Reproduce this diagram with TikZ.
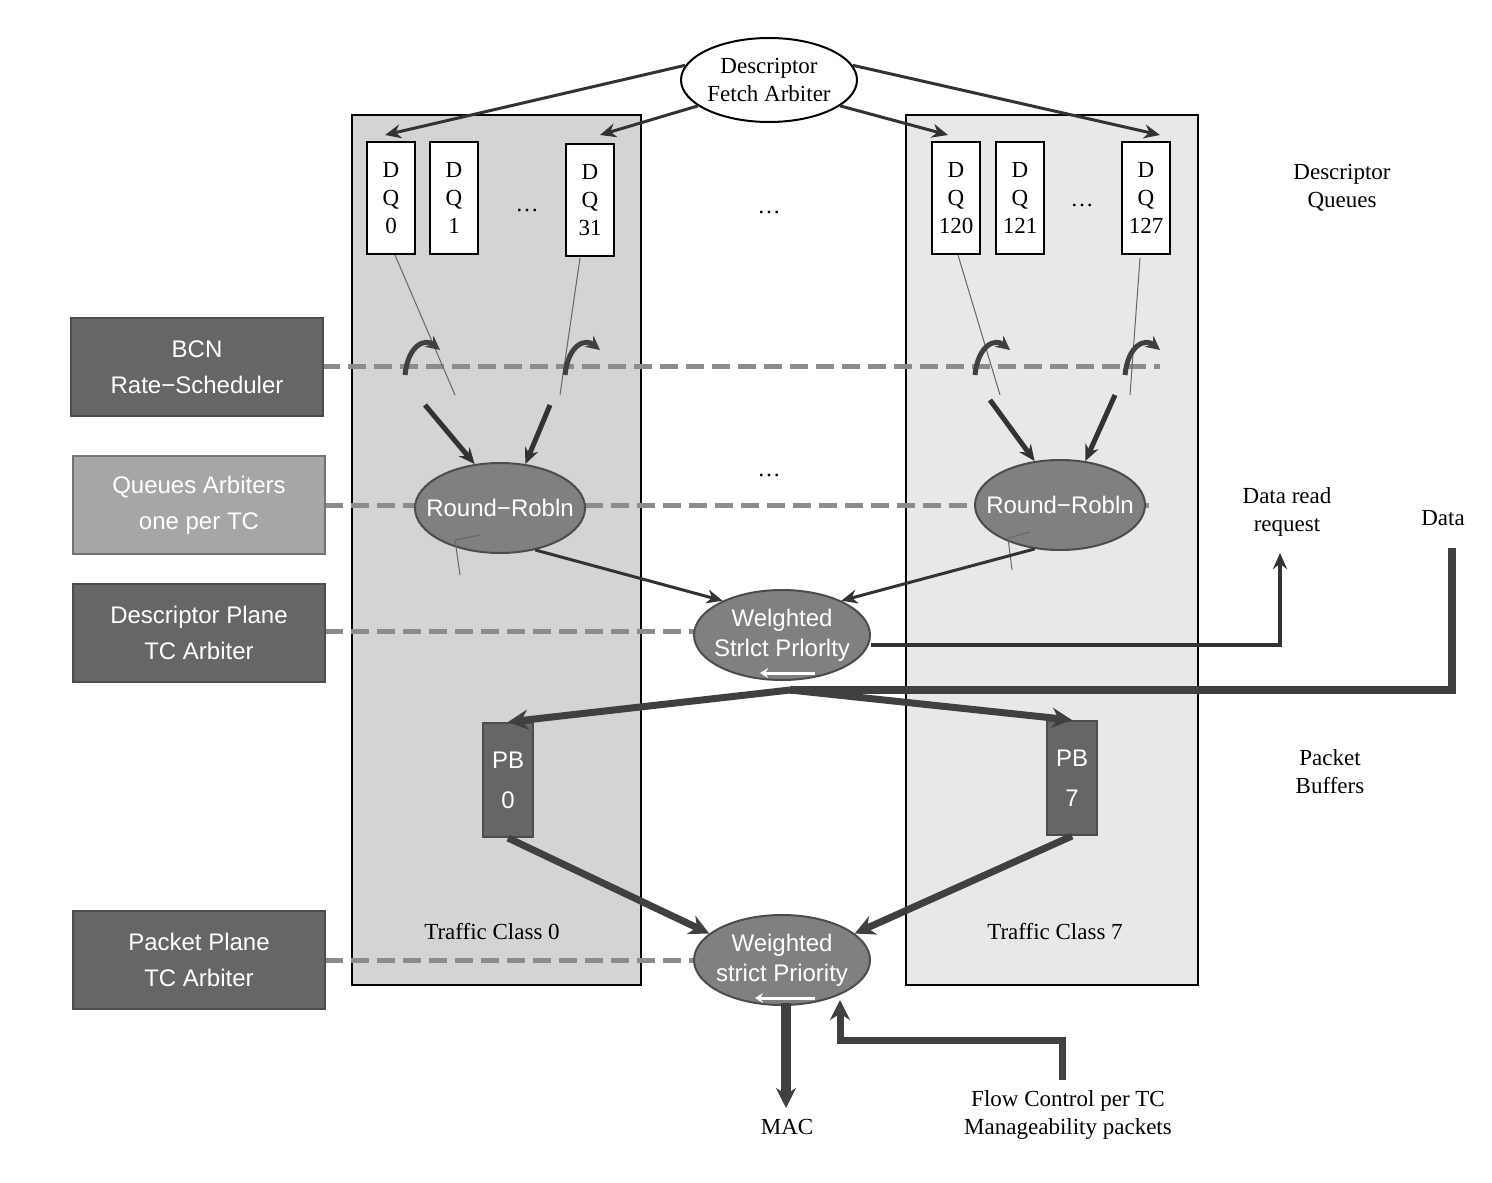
\documentclass[tikz,border=0pt]{standalone}
\usepackage{fontspec}
\setmainfont{Liberation Serif}
\newfontfamily\sansf{Liberation Sans}
\usetikzlibrary{arrows.meta,shapes.geometric}
\begin{document}
\begin{tikzpicture}[x=0.5pt,y=-0.5pt,
  txt/.style={font=\fontsize{11.5}{14}\selectfont,align=center},
  dq/.style={draw,line width=1pt,fill=white,minimum width=24pt,minimum height=56pt,inner sep=0pt,font=\fontsize{11.5}{14}\selectfont,align=center},
  lbox/.style={draw=black!70,line width=1pt,fill=black!60,text=white,minimum width=126pt,minimum height=49pt,font=\sansf\fontsize{12}{18}\selectfont,align=center},
  ell/.style={ellipse,draw=black!70,line width=1pt,fill=black!50,text=white,font=\sansf\fontsize{12}{15}\selectfont,align=center,inner xsep=-9pt,inner ysep=0pt},
  dashln/.style={draw=black!45,line width=2.5pt,dash pattern=on 9pt off 4pt},
  ar/.style={-{Stealth[length=8pt,width=7pt]},line width=1.5pt,draw=black!80},
  tk/.style={-{Stealth[length=10pt,width=10pt]},line width=3.5pt,draw=black!75},
  thin/.style={draw=black!60,line width=0.5pt}]
\useasboundingbox (0,0) rectangle (1492,1182);
\fill[white] (0,0) rectangle (1492,1182);
% panels
\draw[line width=1pt,fill=black!17] (352,115) rectangle (641,985);
\draw[line width=1pt,fill=black!9] (906,115) rectangle (1198,985);
% dashed lines
\draw[dashln] (322,366) -- (1160,366);
\draw[dashln] (325,505) -- (1150,505);
\draw[dashln] (325,631) -- (700,631);
\draw[dashln] (325,960) -- (695,960);
% fetch arbiter
\node[ellipse,draw,line width=1pt,fill=white,minimum width=88pt,minimum height=42pt,inner sep=0pt,txt] (dfa) at (769,80) {Descriptor\\Fetch Arbiter};
% DQs
\node[dq] (dq0) at (391,198) {D\\Q\\0};
\node[dq] (dq1) at (454,198) {D\\Q\\1};
\node[dq] (dq31) at (590,200) {D\\Q\\31};
\node[dq] (dq120) at (956,198) {D\\Q\\120};
\node[dq] (dq121) at (1020,198) {D\\Q\\121};
\node[dq] (dq127) at (1146,198) {D\\Q\\127};
\coordinate (t0) at (385,135); \coordinate (t31) at (600,135);
\coordinate (t120) at (948,135); \coordinate (t127) at (1160,135);
\draw[ar] (dfa.170) -- (t0);
\draw[ar] (dfa.200) -- (t31);
\draw[ar] (dfa.-20) -- (t120);
\draw[ar] (dfa.10) -- (t127);
\node[txt] (d1) at (527,210) {\dots};
\node[txt] (d2) at (769,212) {\dots};
\node[txt] (d3) at (1082,205) {\dots};
\node[txt] (d4) at (769,475) {\dots};
% thin lines and curved arrows
\foreach \a/\b/\c/\d in {395/255/455/395, 580/258/560/395, 958/255/1000/395, 1140/258/1130/395}{
  \draw[thin] (\a,\b) -- (\c,\d);}
\foreach \x in {405,565,975,1125}{
  \draw[-{Stealth[length=7pt,width=7pt]},line width=2.5pt,draw=black!75] (\x,375) .. controls (\x+3,345) and (\x+20,338) .. (\x+35,350);}
% round robins
\node[ell,minimum width=85pt,minimum height=45pt] (rr0) at (500,508) {Round−Robln};
\node[ell,minimum width=85pt,minimum height=45pt] (rr7) at (1060,505) {Round−Robln};
\draw[thin] (460,575) -- (455,540) -- (480,535);
\draw[thin] (1012,570) -- (1008,538) -- (1030,532);
\coordinate (a1) at (425,405); \coordinate (a2) at (550,405);
\coordinate (a3) at (990,400); \coordinate (a4) at (1115,395);
\draw[ar,line width=2.5pt] (a1) -- (rr0.120);
\draw[ar,line width=2.5pt] (a2) -- (rr0.60);
\draw[ar,line width=2.5pt] (a3) -- (rr7.120);
\draw[ar,line width=2.5pt] (a4) -- (rr7.60);
% WSP
\node[ell,minimum width=88pt,minimum height=45pt] (wsp) at (782,635) {Welghted\\Strlct Prlorlty};
\node[ell,minimum width=88pt,minimum height=45pt] (wsp2) at (782,960) {Weighted\\strict Priority};
\draw[-{Stealth[length=4pt,width=5pt]},white,line width=1.5pt] (815,673) -- (760,673);
\draw[-{Stealth[length=4pt,width=5pt]},white,line width=1.5pt] (815,998) -- (755,998);
\draw[ar] (rr0.-50) -- (wsp.150);
\draw[ar] (rr7.-120) -- (wsp.30);
% left boxes
\node[lbox] (bcn) at (197,367) {BCN\\Rate−Scheduler};
\node[lbox,fill=black!35,draw=black!55] (qa) at (199,505) {Queues Arbiters\\one per TC};
\node[lbox] (dp) at (199,633) {Descriptor Plane\\TC Arbiter};
\node[lbox] (pp) at (199,960) {Packet Plane\\TC Arbiter};
% right texts
\node[txt] (dqt) at (1342,188) {Descriptor\\Queues};
\node[txt] (drr) at (1287,512) {Data read\\request};
\node[txt] (dat) at (1443,518) {Data};
\node[txt] (pbt) at (1330,772) {Packet\\Buffers};
\node[txt] (tc0) at (492,932) {Traffic Class 0};
\node[txt] (tc7) at (1055,932) {Traffic Class 7};
\node[txt] (mac) at (787,1127) {MAC};
\node[txt] (fc) at (1068,1115) {Flow Control per TC\\Manageability packets};
% data read request
\coordinate (r1) at (1280,645); \coordinate (r2) at (1280,553);
\draw[ar,line width=2pt] (wsp.east |- r1) -- (r1) -- (r2);
% PBs
\node[draw=black!70,line width=1pt,fill=black!60,text=white,minimum width=25pt,minimum height=57pt,font=\sansf\fontsize{12}{20}\selectfont,align=center] (pb0) at (508,780) {PB\\0};
\node[draw=black!70,line width=1pt,fill=black!60,text=white,minimum width=25pt,minimum height=57pt,font=\sansf\fontsize{12}{20}\selectfont,align=center] (pb7) at (1072,778) {PB\\7};
% data line
\coordinate (dd1) at (1452,548); \coordinate (dd2) at (1452,690); \coordinate (dd3) at (790,690);
\draw[line width=4pt,draw=black!75] (dd1) -- (dd2) -- (dd3);
\draw[tk] (dd3) -- (pb0.north);
\draw[tk] (dd3) -- (pb7.north);
\draw[tk] (pb0.south) -- (wsp2.160);
\draw[tk] (pb7.south) -- (wsp2.20);
% MAC
\coordinate (m0) at (786,1003); \coordinate (m1) at (786,1108);
\draw[tk,line width=5pt] (m0) -- (m1);
% flow control
\coordinate (f1) at (1062,1080); \coordinate (f2) at (1062,1040); \coordinate (f3) at (840,1040); \coordinate (f4) at (840,1000);
\draw[tk] (f1) -- (f2) -- (f3) -- (f4);
\end{tikzpicture}
\end{document}
